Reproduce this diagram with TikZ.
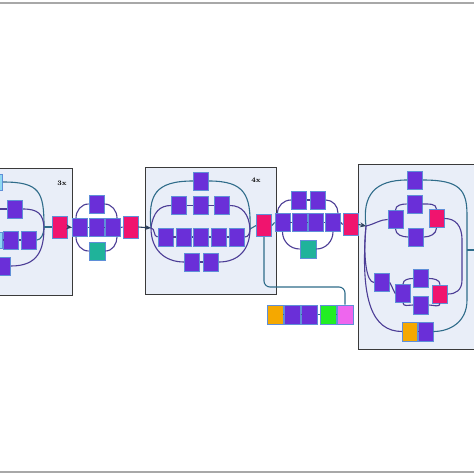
\documentclass[tikz,border=0pt]{standalone}
\usetikzlibrary{arrows.meta}
\definecolor{pufill}{HTML}{6A2FD8}
\definecolor{pkfill}{HTML}{F0146E}
\definecolor{tlfill}{HTML}{1FB39A}
\definecolor{ogfill}{HTML}{F5A800}
\definecolor{gnfill}{HTML}{22EE22}
\definecolor{mgfill}{HTML}{EE66EE}
\definecolor{cyfill}{HTML}{8ED8F2}
\definecolor{nodeborder}{HTML}{5F8FD8}
\definecolor{boxfill}{HTML}{E9EEF8}
\definecolor{boxline}{HTML}{3A3A3A}
\definecolor{lteal}{HTML}{2F6C8A}
\definecolor{lpur}{HTML}{4C3D96}
\definecolor{arrcol}{HTML}{2B3F5C}
\definecolor{frame}{HTML}{A8A8A8}
\begin{document}
\begin{tikzpicture}[x=1pt,y=-1pt,
  blk/.style={draw=nodeborder, line width=0.8pt, minimum width=15pt, minimum height=18pt, inner sep=0pt},
  pu/.style={blk, fill=pufill},
  pk/.style={blk, fill=pkfill, minimum height=22pt},
  tl/.style={blk, fill=tlfill, minimum width=16pt},
  og/.style={blk, fill=ogfill, minimum width=16pt, minimum height=19pt},
  gn/.style={blk, fill=gnfill, minimum width=16pt, minimum height=19pt},
  mg/.style={blk, fill=mgfill, minimum width=16pt, minimum height=19pt},
  cy/.style={blk, fill=cyfill, minimum height=16pt},
  box/.style={draw=boxline, fill=boxfill, line width=1pt},
  ln/.style={draw=lteal, line width=1.1pt},
  lp/.style={draw=lpur, line width=1.1pt},
  arr/.style={draw=arrcol, line width=1.1pt, -{Stealth[length=6pt,width=5pt]}},
  lbl/.style={font=\fontsize{7}{8}\selectfont\bfseries, inner sep=0pt}
]
\useasboundingbox (0,0) rectangle (474,474);
\fill[white] (0,0) rectangle (474,474);
\draw[frame, line width=2pt] (0,3) -- (474,3);
\draw[frame, line width=2pt] (0,472) -- (474,472);

% boxes
\draw[box] (-5,168) rectangle (72,295);
\draw[box] (145,167) rectangle (276,294);
\draw[box] (358,164) rectangle (490,349);
\node[lbl] (l3) at (62,183) {3x};
\node[lbl] (l4) at (256,180) {4x};

% ---------- box 1 ----------
\node[cy] (c1) at (-5,182) {};
\node[cy] (c2) at (-5,240) {};
\node[pu] (a1) at (15,209) {};
\node[pu] (a2) at (11,240) {};
\node[pu] (a3) at (29,240) {};
\node[pu] (a4) at (3,266) {};
\node[pk] (p1) at (59.5,227) {};
\coordinate (e1) at (0,209);
\coordinate (j1) at (44,227);
\draw[ln] (c1.east) .. controls (40,182) and (44,192) .. (j1);
\draw[lp] (a1.east) .. controls (38,209) and (43,214) .. (j1);
\draw[ln] (a3.east) .. controls (41,240) and (44,234) .. (j1);
\draw[lp] (a4.east) .. controls (38,266) and (44,250) .. (j1);
\draw[ln] (j1) -- (p1.west);
\draw[lp] (e1) -- (a1.west);
\draw[lp] (c2.east) -- (a2.west);
\draw[lp] (a2.east) -- (a3.west);

% ---------- cluster 1 ----------
\node[pu] (b1) at (80,227.5) {};
\node[pu] (b2) at (96.5,227.5) {};
\node[pu] (b3) at (113,227.5) {};
\node[pk] (q1) at (130.5,227) {};
\node[pu] (bt) at (96.5,204) {};
\node[tl] (tt) at (97,251) {};
\draw[arr] (p1.east) -- (b1.west);
\draw[lp] (b1.east) -- (b2.west);
\draw[lp] (b2.east) -- (b3.west);
\draw[lp] (b3.east) -- (q1.west);
\draw[lp] ([xshift=-4pt]b1.north) to[out=90,in=180] (bt.west);
\draw[lp] (bt.east) to[out=0,in=90] ([xshift=4pt]b3.north);
\draw[lp] ([xshift=-4pt]b1.south) to[out=-90,in=180] (tt.west);
\draw[lp] (tt.east) to[out=0,in=-90] ([xshift=4pt]b3.south);

% ---------- box 2 ----------
\coordinate (j2) at (151,228);
\coordinate (k2) at (250,229);
\node[pu] (t) at (201,181) {};
\node[pu] (r21) at (179,205.5) {};
\node[pu] (r22) at (200.5,205.5) {};
\node[pu] (r23) at (222,205.5) {};
\node[pu] (r31) at (165.5,237) {};
\node[pu] (r32) at (184,237) {};
\node[pu] (r33) at (201,237) {};
\node[pu] (r34) at (219,237) {};
\node[pu] (r35) at (237,237) {};
\node[pu] (r41) at (192,262) {};
\node[pu] (r42) at (211,262) {};
\node[pk] (q2) at (264,225.5) {};
\draw[arr] (q1.east) -- (j2);
\draw[ln] (j2) .. controls (148,195) and (155,181) .. (t.west);
\draw[ln] (t.east) .. controls (245,181) and (251,195) .. (k2);
\draw[lp] (j2) .. controls (153,212) and (160,205.5) .. (r21.west);
\draw[lp] (r23.east) .. controls (242,205.5) and (249,214) .. (k2);
\draw[lp] (j2) to[out=0,in=180] (r31.west);
\draw[lp] (r35.east) to[out=0,in=-90] (k2);
\draw[lp] (j2) .. controls (151,250) and (165,262) .. (r41.west);
\draw[lp] (r42.east) .. controls (238,262) and (250,250) .. (k2);
\draw[lp] (r21.east) -- (r22.west);
\draw[lp] (r22.east) -- (r23.west);
\draw[lp] (r31.east) -- (r32.west);
\draw[lp] (r32.east) -- (r33.west);
\draw[lp] (r33.east) -- (r34.west);
\draw[lp] (r34.east) -- (r35.west);
\draw[lp] (r41.east) -- (r42.west);
\draw[ln] (k2) -- (q2.west);

% ---------- cluster 2 ----------
\node[pu] (c21) at (282.5,222.5) {};
\node[pu] (c22) at (299.5,222.5) {};
\node[pu] (c23) at (316,222.5) {};
\node[pu] (c24) at (333,222.5) {};
\node[pk] (q3) at (350.5,224.5) {};
\node[pu] (ct1) at (299,200) {};
\node[pu] (ct2) at (318,200) {};
\node[tl] (ct3) at (308,249) {};
\draw[ln] (q2.east) -- (c21.west);
\draw[lp] (c21.east) -- (c22.west);
\draw[lp] (c22.east) -- (c23.west);
\draw[lp] (c23.east) -- (c24.west);
\draw[lp] (c24.east) -- (q3.west);
\draw[lp] (ct1.east) -- (ct2.west);
\draw[lp] ([xshift=-5pt]c21.north) to[out=90,in=180] (ct1.west);
\draw[lp] (ct2.east) to[out=0,in=90] ([xshift=5pt]c24.north);
\draw[lp] (c21.south) to[out=-90,in=180] (ct3.west);
\draw[lp] (ct3.east) to[out=0,in=-90] (c24.south);

% ---------- bottom row ----------
\node[og] (og1) at (275,314.5) {};
\node[pu, minimum width=16pt, minimum height=19pt] (d1) at (292.5,314.5) {};
\node[pu, minimum width=16pt, minimum height=19pt] (d2) at (309.5,314.5) {};
\node[gn] (gn1) at (328,314.5) {};
\node[mg] (mg1) at (345,314.5) {};
\draw[ln] (og1.east) -- (d1.west);
\draw[ln] (d1.east) -- (d2.west);
\draw[ln] (d2.east) -- (gn1.west);
\draw[ln] (gn1.east) -- (mg1.west);
\coordinate (bend) at (345,287);
\draw[ln, rounded corners=6pt] (q2.south) |- (bend) -- (mg1.north);

% ---------- box 3 ----------
\coordinate (j3) at (366,226);
\coordinate (ra) at (467,215);
\coordinate (rb) at (467,300);
\coordinate (rc) at (462,240);
\coordinate (rd) at (462,280);
\coordinate (o1) at (467,250);
\coordinate (o2) at (474,250);
\node[pu] (T) at (415,180) {};
\node[pu] (S) at (414.5,204) {};
\node[pu] (L) at (395.5,219.5) {};
\node[pk, minimum height=18pt] (P) at (436.5,218.5) {};
\node[pu] (B) at (416,237) {};
\node[pu] (M1) at (382,282.5) {};
\node[pu] (M2) at (403,293.5) {};
\node[pu] (M3) at (421,278.5) {};
\node[pu] (M4) at (421,305) {};
\node[pk, minimum height=18pt] (P2) at (440,294) {};
\node[og, minimum width=15pt] (O) at (410,331.5) {};
\node[pu, minimum height=19pt] (M5) at (425.5,331.5) {};
\draw[arr] (q3.east) -- (j3);
\draw[ln] (j3) .. controls (362,195) and (375,180) .. (T.west);
\draw[ln] (T.east) .. controls (460,180) and (467,190) .. (ra) -- (rb) .. controls (467,322) and (450,331.5) .. (M5.east);
\draw[ln] (o1) -- (o2);
\draw[lp] (j3) .. controls (375,224) and (380,219.5) .. (L.west);
\draw[lp] (P.east) .. controls (455,218.5) and (462,225) .. (rc) -- (rd) .. controls (462,290) and (456,294) .. (P2.east);
\draw[lp] (L.north) to[out=90,in=180] (S.west);
\draw[lp] (S.east) to[out=0,in=90] (P.north);
\draw[lp] (L.south) to[out=-90,in=180] (B.west);
\draw[lp] (B.east) to[out=0,in=-90] (P.south);
\draw[lp] (j3) .. controls (363,255) and (366,282.5) .. (M1.west);
\draw[lp] (j3) .. controls (360,300) and (372,331.5) .. (O.west);
\draw[lp] (M1.east) -- (M2.west);
\draw[lp] (M2.north) to[out=90,in=180] (M3.west);
\draw[lp] (M2.south) to[out=-90,in=180] (M4.west);
\draw[lp] (M3.east) to[out=0,in=90] (P2.north);
\draw[lp] (M4.east) to[out=0,in=-90] (P2.south);
\draw[lp] (O.east) -- (M5.west);
\end{tikzpicture}
\end{document}
